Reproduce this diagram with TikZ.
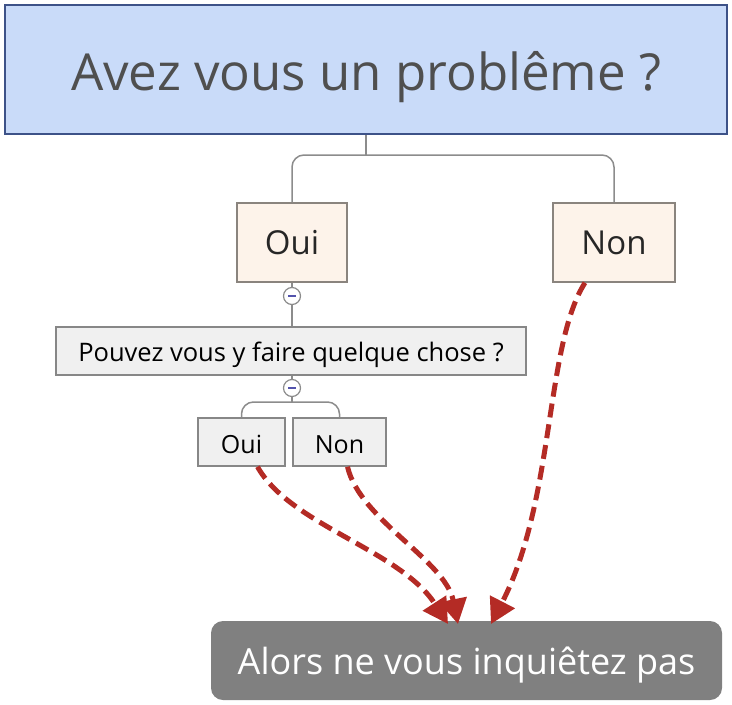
\documentclass[tikz,border=0pt]{standalone}
\usepackage{fontspec}
\setmainfont{Open Sans}
\usetikzlibrary{arrows.meta}
\definecolor{topfill}{HTML}{C9DBF9}
\definecolor{topdraw}{HTML}{3D5288}
\definecolor{titletext}{HTML}{4F4F4F}
\definecolor{peach}{HTML}{FDF3EA}
\definecolor{peachdraw}{HTML}{8A847E}
\definecolor{greyfill}{HTML}{F0F0F0}
\definecolor{greydraw}{HTML}{878787}
\definecolor{linkgrey}{HTML}{8C8C8C}
\definecolor{arrowred}{HTML}{B42B25}
\definecolor{botfill}{HTML}{808080}
\begin{document}
\begin{tikzpicture}[x=1pt,y=-1pt,
  topbox/.style={draw=topdraw,fill=topfill,line width=2pt,minimum width=722pt,minimum height=129pt,inner sep=0pt,text=titletext,font=\fontsize{51}{56}\selectfont,text height=41pt,text depth=0pt},
  peachbox/.style={draw=peachdraw,fill=peach,line width=1.5pt,minimum height=79pt,inner sep=0pt,text=black!85,font=\fontsize{33}{38}\selectfont},
  greybox/.style={draw=greydraw,fill=greyfill,line width=1.5pt,inner sep=0pt,text=black,font=\fontsize{25}{30}\selectfont,text height=22pt,text depth=0pt},
  botbox/.style={fill=botfill,rounded corners=12pt,minimum width=511pt,minimum height=79pt,inner sep=0pt,text=white,font=\fontsize{36}{42}\selectfont,text height=27pt,text depth=0pt},
  link/.style={draw=linkgrey,line width=1.5pt,rounded corners=12pt},
  collapse/.style={circle,draw=linkgrey,fill=white,line width=1.2pt,minimum size=17pt,inner sep=0pt},
  redarrow/.style={draw=arrowred,line width=5pt,dash pattern=on 14pt off 7pt,-{Triangle[length=25pt,width=27pt]}}
]
\useasboundingbox (0,0) rectangle (732,705);
\node[topbox] (top) at (366,69.5) {Avez vous un problême ?};
\node[peachbox,minimum width=110pt] (oui) at (292,242.5) {Oui};
\node[peachbox,minimum width=122pt] (non) at (614,242.5) {Non};
\node[greybox,minimum width=470pt,minimum height=48pt,font=\fontsize{25.5}{30}\selectfont,text height=20pt,text depth=0pt] (q) at (291,351) {Pouvez vous y faire quelque chose ?};
\node[greybox,minimum width=87pt,minimum height=48pt] (oui2) at (241.5,442) {Oui};
\node[greybox,minimum width=93pt,minimum height=48pt] (non2) at (339.5,442) {Non};
\node[botbox] (bot) at (466.5,660.5) {Alors ne vous inquiêtez pas};
% tree links
\coordinate (j1) at (366,155);
\draw[link] (top.south) -- (j1);
\draw[link] (j1) -| (oui.north);
\draw[link] (j1) -| (non.north);
\node[collapse] (c1) at (292,296) {};
\draw[link] (oui.south) -- (c1.north);
\draw[link] (c1.south) -- (q.north -| c1.south);
\node[collapse] (c2) at (292,388) {};
\draw[link] (q.south -| c2.north) -- (c2.north);
\coordinate (j2) at (292,402);
\draw[link] (c2.south) -- (j2);
\draw[link] (j2) -| (oui2.north);
\draw[link] (j2) -| (non2.north);
\foreach \c in {c1,c2}{\draw[draw=blue!35!gray,line width=1.2pt] ([xshift=-4pt]\c.center) -- ([xshift=4pt]\c.center);}
% red arrows
\coordinate (t1) at (448,624);
\coordinate (t2) at (458,624);
\coordinate (t3) at (491,624);
\draw[redarrow] ([xshift=16pt]oui2.south) .. controls (290,525) and (400,550) .. (t1);
\draw[redarrow] ([xshift=8pt]non2.south) .. controls (360,520) and (445,560) .. (t2);
\draw[redarrow] ([xshift=-29pt]non.south) .. controls (545,345) and (555,500) .. (t3);
\end{tikzpicture}
\end{document}
